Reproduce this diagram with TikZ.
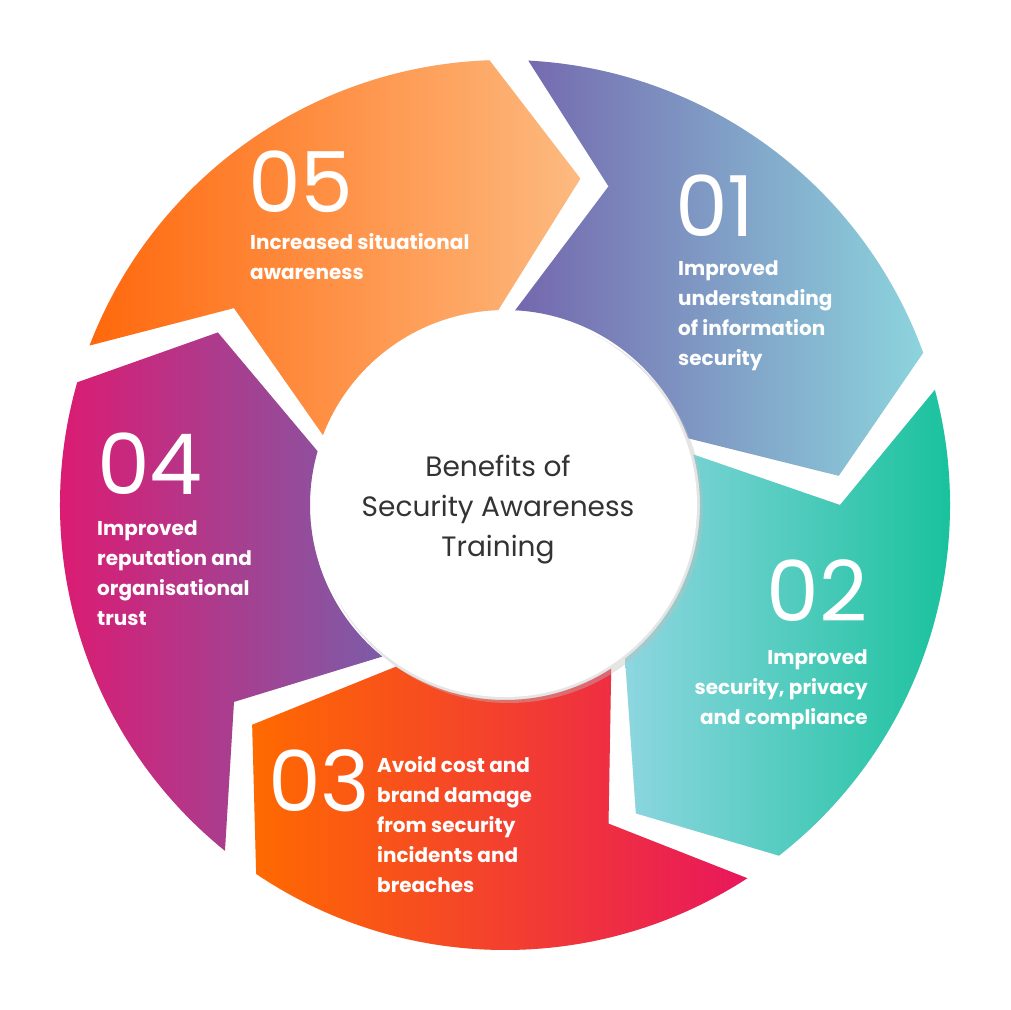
\documentclass[tikz,border=0pt]{standalone}
\usepackage{fontspec}
\setmainfont{Poppins}
\usetikzlibrary{calc}
\definecolor{c1a}{HTML}{7467AE}
\definecolor{c1b}{HTML}{8CD4DD}
\definecolor{c2a}{HTML}{8DD6E0}
\definecolor{c2b}{HTML}{0FC097}
\definecolor{c3a}{HTML}{FF6A00}
\definecolor{c3b}{HTML}{E8175C}
\definecolor{c4a}{HTML}{E5156D}
\definecolor{c4b}{HTML}{7C5CA8}
\definecolor{c5a}{HTML}{FF680C}
\definecolor{c5b}{HTML}{FDBA80}
\tikzset{
  label/.style = {text=white, font=\bfseries\fontsize{20}{30}\selectfont, inner sep=0pt},
  num/.style = {text=white, font=\fontsize{84}{84}\selectfont, inner sep=0pt}
}
% one ring piece: trailing angle, leading angle
\newcommand\ringpath[2]{($(C)+(#1-5:445)$) arc[start angle=#1-5, end angle=#2, radius=445]
  -- ($(C)+(#2-15:335)$) -- ($(C)+(#2:195)$)
  arc[start angle=#2, end angle=#1-5, radius=195] -- ($(C)+(#1-20:335)$) -- cycle}
\newcommand\ringseg[4]{%
  \fill[black!30, opacity=0.35] [shift={(7,-7)}] \ringpath{#1}{#2};
  \shade[left color=#3, right color=#4] \ringpath{#1}{#2};}
\begin{document}
\begin{tikzpicture}[x=1pt, y=1pt]
  \useasboundingbox (0,0) rectangle (1010,1010);
  \coordinate (C) at (505,505);

  \ringseg{92}{20}{c1a}{c1b}
  \ringseg{20}{-52}{c2a}{c2b}
  \ringseg{-52}{-124}{c3a}{c3b}
  \ringseg{-124}{-196}{c4a}{c4b}
  \ringseg{-196}{-268}{c5a}{c5b}

  \fill[black!25, opacity=0.4] ($(C)+(4,-4)$) circle (194);
  \fill[white] (C) circle (192);

  \node[align=center, text=black!80, font=\fontsize{28}{40}\selectfont] (title) at (498,500)
    {Benefits of\\Security Awareness\\Training};

  \node[num, anchor=base west] (n01) at (675,773) {01};
  \node[label, anchor=base west, align=left] (t01) at (678,644)
    {Improved\\understanding\\of information\\security};
  \node[num, anchor=base east] (n02) at (868,388) {02};
  \node[label, anchor=base east, align=right] (t02) at (868,285)
    {Improved\\security, privacy\\and compliance};
  \node[num, anchor=base west] (n03) at (268,198) {03};
  \node[label, anchor=base west, align=left] (t03) at (377,117)
    {Avoid cost and\\brand damage\\from security\\incidents and\\breaches};
  \node[num, anchor=base west] (n04) at (97,515) {04};
  \node[label, anchor=base west, align=left] (t04) at (97,384)
    {Improved\\reputation and\\organisational\\trust};
  \node[num, anchor=base west] (n05) at (248,797) {05};
  \node[label, anchor=base west, align=left] (t05) at (250,730)
    {Increased situational\\awareness};

\end{tikzpicture}
\end{document}
